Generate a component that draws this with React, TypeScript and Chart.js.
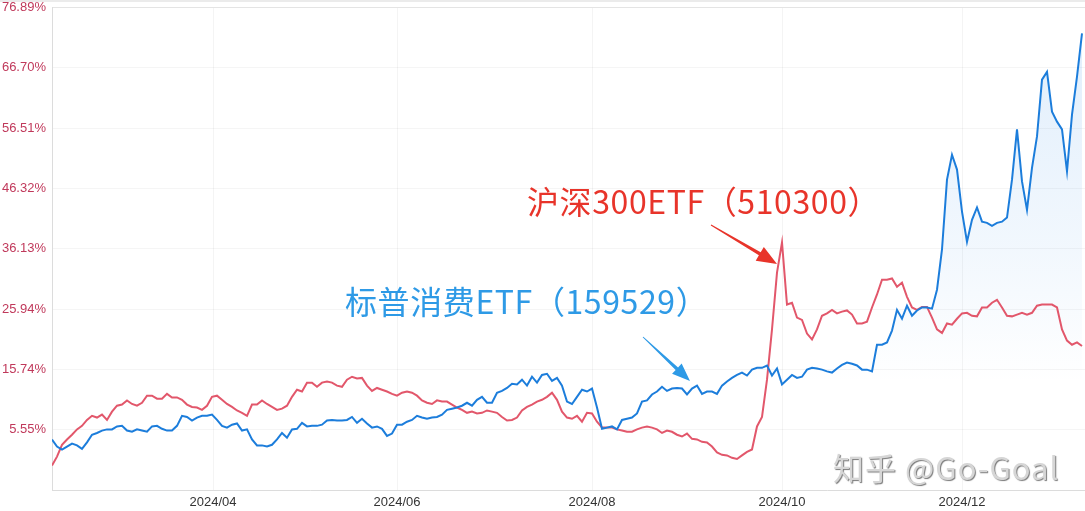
import React, { useEffect, useRef } from 'react';
import { Chart, registerables } from 'chart.js';

Chart.register(...registerables);

// Trading-day index positions of the first session of each labelled month
const xTickIndex = [32.2, 69, 108, 146, 182];
const xTickLabels = ['2024/04', '2024/06', '2024/08', '2024/10', '2024/12'];
const yTickValues = [-4.64, 5.55, 15.74, 25.94, 36.13, 46.32, 56.51, 66.7, 76.89];

const seriesNames = ['标普消费ETF（159529）', '沪深300ETF（510300）'];

// 沪深300ETF（510300） cumulative return, %
const redValues = [
  -0.5, 1.0, 3.0, 3.9, 4.7, 5.6, 6.2, 7.2, 7.9, 7.6,
  8.1, 7.2, 8.6, 9.6, 9.8, 10.5, 9.9, 9.6, 10.1, 11.3,
  11.3, 10.8, 10.8, 11.6, 11.0, 11.0, 10.6, 9.8, 9.4, 9.3,
  8.9, 9.6, 11.1, 11.3, 10.6, 9.9, 9.4, 8.8, 8.4, 7.9,
  9.8, 9.8, 10.5, 9.9, 9.4, 8.9, 9.1, 9.6, 11.1, 12.3,
  12.0, 13.5, 13.5, 12.8, 13.5, 13.7, 13.5, 13.0, 12.8, 14.0,
  14.5, 14.2, 14.3, 13.0, 12.1, 12.6, 12.3, 12.0, 11.6, 11.3,
  11.8, 12.0, 11.8, 11.3, 10.5, 10.1, 9.9, 10.5, 10.3, 10.3,
  9.8, 9.3, 8.9, 8.4, 8.6, 8.3, 8.4, 8.8, 8.6, 8.4,
  7.7, 7.1, 7.2, 7.6, 8.8, 9.4, 9.8, 10.3, 10.6, 11.1,
  11.8, 10.6, 8.6, 7.6, 7.4, 7.9, 6.9, 8.4, 8.3, 6.9,
  5.9, 5.9, 5.9, 5.6, 5.4, 5.2, 5.2, 5.6, 5.9, 6.1,
  5.9, 5.6, 5.0, 5.4, 5.2, 4.7, 4.4, 4.9, 4.0, 3.9,
  3.5, 3.4, 2.7, 1.7, 1.3, 1.2, 0.8, 0.6, 1.2, 1.8,
  2.2, 6.1, 7.7, 14.0, 22.5, 32.1, 37.2, 26.7, 27.0, 24.5,
  24.1, 21.8, 20.8, 22.5, 24.8, 25.2, 25.8, 25.2, 25.5, 25.7,
  25.0, 23.5, 23.5, 23.8, 26.2, 28.4, 30.9, 30.9, 31.1, 29.7,
  30.4, 28.0, 26.2, 25.8, 26.3, 26.3, 24.5, 22.5, 21.9, 23.5,
  23.3, 24.3, 25.2, 25.3, 24.8, 24.7, 26.2, 26.2, 27.0, 27.5,
  26.2, 24.8, 24.7, 25.0, 25.3, 25.0, 25.3, 26.5, 26.7, 26.7,
  26.7, 26.2, 22.5, 20.6, 19.9, 20.3, 19.7,
];

// 标普消费ETF（159529） cumulative return, %
const blueValues = [
  3.9, 2.7, 2.2, 2.7, 3.2, 2.9, 2.3, 3.4, 4.7, 5.0,
  5.4, 5.6, 5.6, 6.1, 6.2, 5.4, 5.2, 5.6, 5.4, 5.2,
  6.1, 6.2, 5.7, 5.4, 5.4, 6.2, 7.9, 7.7, 7.1, 7.6,
  7.9, 7.9, 8.1, 7.2, 6.2, 5.9, 6.4, 6.6, 5.4, 5.6,
  3.9, 2.9, 2.9, 2.7, 3.0, 3.9, 5.0, 4.2, 5.6, 5.7,
  6.7, 6.1, 6.2, 6.2, 6.4, 7.1, 7.2, 7.1, 7.1, 7.2,
  7.7, 6.7, 7.4, 6.6, 5.9, 6.1, 5.7, 4.5, 4.9, 6.4,
  6.4, 6.9, 7.2, 7.9, 7.6, 7.4, 7.6, 7.7, 8.1, 8.9,
  9.1, 9.3, 9.6, 10.1, 9.6, 10.6, 11.1, 10.1, 10.1, 11.8,
  12.1, 12.6, 13.3, 13.2, 14.0, 13.0, 14.5, 13.5, 14.8, 15.0,
  13.8, 14.3, 13.0, 10.3, 9.9, 11.1, 12.3, 12.0, 12.5, 9.3,
  5.7, 5.9, 6.1, 5.6, 7.2, 7.4, 7.6, 8.3, 10.3, 10.5,
  11.5, 12.0, 12.8, 12.1, 12.5, 12.6, 12.5, 11.5, 12.5, 13.0,
  11.6, 12.0, 12.0, 11.6, 13.0, 13.7, 14.3, 14.8, 15.2, 14.7,
  15.7, 16.0, 16.0, 16.4, 14.7, 15.9, 13.2, 14.0, 14.8, 14.3,
  14.5, 15.7, 16.0, 15.9, 15.7, 15.4, 15.2, 15.9, 16.5, 16.9,
  16.7, 16.4, 15.7, 15.7, 15.4, 19.9, 19.9, 20.3, 22.3, 25.8,
  24.3, 26.5, 24.8, 25.7, 26.2, 26.2, 26.0, 29.2, 36.0, 47.8,
  52.0, 49.5, 42.4, 37.3, 41.0, 43.1, 40.7, 40.5, 40.0, 40.5,
  40.7, 41.4, 47.8, 56.3, 47.5, 42.7, 49.8, 55.1, 64.7, 66.0,
  59.3, 57.6, 56.3, 49.2, 58.8, 65.2, 72.5,
];

const W = 1085;
const H = 511;
const FONT = '"Liberation Sans", Arial, sans-serif';
const CJK = '"Noto Sans CJK SC", "Noto Sans", sans-serif';

function drawArrow(
  ctx: CanvasRenderingContext2D,
  x1: number, y1: number, x2: number, y2: number,
  color: string, headLen: number, headHalf: number, tailW: number, baseW: number
) {
  const dx = x2 - x1;
  const dy = y2 - y1;
  const len = Math.hypot(dx, dy);
  const ux = dx / len;
  const uy = dy / len;
  const px = -uy;
  const py = ux;
  const bx = x2 - ux * headLen;
  const by = y2 - uy * headLen;
  ctx.save();
  ctx.fillStyle = color;
  ctx.beginPath();
  ctx.moveTo(x1 + px * tailW / 2, y1 + py * tailW / 2);
  ctx.lineTo(bx + px * baseW / 2, by + py * baseW / 2);
  ctx.lineTo(bx + px * headHalf, by + py * headHalf);
  ctx.lineTo(x2, y2);
  ctx.lineTo(bx - px * headHalf, by - py * headHalf);
  ctx.lineTo(bx - px * baseW / 2, by - py * baseW / 2);
  ctx.lineTo(x1 - px * tailW / 2, y1 - py * tailW / 2);
  ctx.closePath();
  ctx.fill();
  ctx.restore();
}

const decorPlugin = {
  id: 'decor',
  beforeDraw(chart: any) {
    const ctx = chart.ctx as CanvasRenderingContext2D;
    ctx.save();
    ctx.fillStyle = '#ffffff';
    ctx.fillRect(0, 0, chart.width, chart.height);
    ctx.fillStyle = '#ebebeb';
    ctx.fillRect(0, 0, chart.width, 2);
    ctx.restore();
  },
  afterDraw(chart: any) {
    const ctx = chart.ctx as CanvasRenderingContext2D;
    drawArrow(ctx, 711, 225, 777, 264, '#e8342a', 20, 8, 1, 3.5);
    drawArrow(ctx, 643, 337, 690, 381, '#2e9ae6', 18, 7, 1, 3.5);
  },
};

export default function App() {
  const ref = useRef<HTMLCanvasElement>(null);

  useEffect(() => {
    const canvas = ref.current;
    if (!canvas) return;
    const chart = new Chart(canvas, {
      type: 'line',
      data: {
        datasets: [
          {
            label: seriesNames[0],
            data: blueValues.map((v, i) => ({ x: i, y: v })),
            borderColor: '#1c7ddb',
            borderWidth: 2,
            pointRadius: 0,
            tension: 0,
            fill: 'start',
            backgroundColor: (c: any) => {
              const area = c.chart.chartArea;
              if (!area) return 'rgba(30,130,230,0.06)';
              const g = c.chart.ctx.createLinearGradient(0, area.top, 0, area.bottom);
              g.addColorStop(0, 'rgba(30,130,230,0.14)');
              g.addColorStop(0.5, 'rgba(30,130,230,0.06)');
              g.addColorStop(0.78, 'rgba(30,130,230,0)');
              g.addColorStop(1, 'rgba(30,130,230,0)');
              return g;
            },
          },
          {
            label: seriesNames[1],
            data: redValues.map((v, i) => ({ x: i, y: v })),
            borderColor: '#e2576b',
            borderWidth: 2,
            pointRadius: 0,
            tension: 0,
            fill: false,
          },
        ],
      },
      options: {
        responsive: false,
        animation: false,
        layout: { padding: { left: 0, right: 0, top: 0, bottom: 0 } },
        plugins: {
          legend: { display: false },
          tooltip: { enabled: false },
          filler: { drawTime: 'beforeDatasetsDraw' },
        } as any,
        scales: {
          x: {
            type: 'linear',
            min: 0,
            max: 206.6,
            afterBuildTicks: (s: any) => {
              s.ticks = xTickIndex.map((v) => ({ value: v }));
            },
            afterFit: (s: any) => {
              s.height = 21;
              s.paddingLeft = 0;
              s.paddingRight = 0;
            },
            ticks: {
              autoSkip: false,
              maxRotation: 0,
              padding: 5,
              color: '#333333',
              font: { family: FONT, size: 13 },
              callback: (_v: any, i: number) => xTickLabels[i],
            },
            grid: { color: 'rgba(0,0,0,0.045)', drawTicks: false },
            border: { color: '#dcdcdc', width: 1 },
          },
          y: {
            type: 'linear',
            min: -4.64,
            max: 76.89,
            afterBuildTicks: (s: any) => {
              s.ticks = yTickValues.map((v) => ({ value: v }));
            },
            afterFit: (s: any) => {
              s.width = 52;
              s.paddingTop = 7.5;
              s.paddingBottom = 0;
            },
            ticks: {
              padding: 6,
              color: '#c0395b',
              font: { family: FONT, size: 13 },
              callback: (v: any, i: number) => (i === 0 ? '' : Number(v).toFixed(2) + '%'),
            },
            grid: {
              color: (c: any) => (c.index === yTickValues.length - 1 ? '#e4e4e4' : 'rgba(0,0,0,0.04)'),
              drawTicks: false,
            },
            border: { color: '#dcdcdc', width: 1 },
          },
        },
      },
      plugins: [decorPlugin],
    });
    return () => chart.destroy();
  }, []);

  const overlay: React.CSSProperties = {
    position: 'absolute',
    whiteSpace: 'nowrap',
    fontFamily: CJK,
    fontSize: 32,
    lineHeight: '33px',
    letterSpacing: '0.6px',
  };

  return (
    <div
      style={{
        position: 'fixed',
        left: 0,
        top: 0,
        width: W,
        height: H,
        overflow: 'hidden',
        background: '#ffffff',
      }}
    >
      <canvas ref={ref} width={W} height={H} style={{ display: 'block', width: W, height: H }} />
      <div style={{ ...overlay, left: 527, top: 184, color: '#e8342a' }}>沪深300ETF（510300）</div>
      <div style={{ ...overlay, left: 345, top: 284, color: '#2e9ae6' }}>标普消费ETF（159529）</div>
      <div
        style={{
          ...overlay,
          left: 833,
          top: 450,
          fontSize: 31,
          letterSpacing: '1px',
          color: '#d6d6d6',
          textShadow: '1px 1px 1px #7a7a7a',
        }}
      >
        知乎 @Go-Goal
      </div>
    </div>
  );
}
